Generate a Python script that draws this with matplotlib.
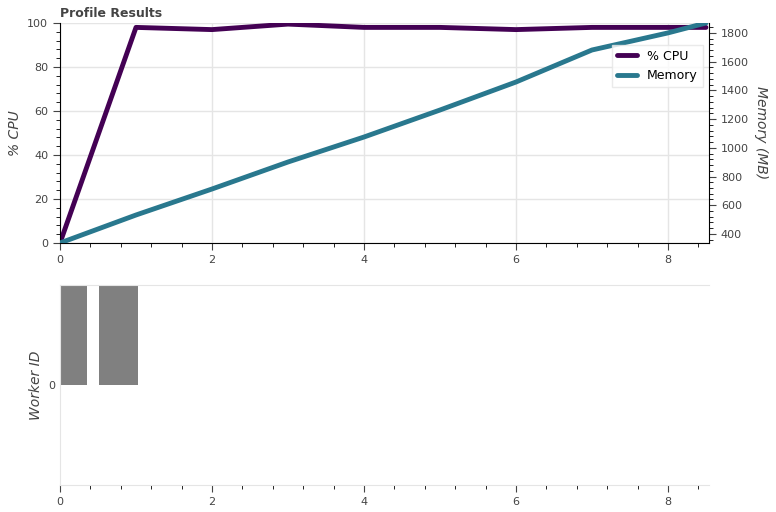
import matplotlib
matplotlib.use("Agg")
import matplotlib.pyplot as plt
from matplotlib.ticker import MultipleLocator

t = [0, 1, 2, 3, 4, 5, 6, 7, 8, 8.5]
cpu = [0, 98, 97, 99.5, 98, 98, 97, 98, 98, 98]
mem = [337, 532, 713, 901, 1075, 1263, 1458, 1681, 1800, 1869]
task_start = [0.0, 0.51]
task_end = [0.355, 1.03]
task_worker = [0, 0]

W, H = 776, 512
fig = plt.figure(figsize=(W/100, H/100), dpi=100)
tc = '#444444'
def ax_rect(l, t_, r, b):
    return [l/W, 1-b/H, (r-l)/W, (b-t_)/H]

ax = fig.add_axes(ax_rect(60, 23, 709, 243))
ax.plot(t, cpu, color='#440154', lw=3.5, label='% CPU', solid_capstyle='round')
ax.set_xlim(0, 8.54); ax.set_ylim(0, 100)
ax.set_ylabel('% CPU', style='italic', color=tc, fontsize=10)
ax.grid(color='#e5e5e5', lw=1)
ax.set_axisbelow(True)
ax2 = ax.twinx()
ax2.plot(t, mem, color='#29788E', lw=3.5, label='Memory', solid_capstyle='round')
ax2.set_ylim(337, 1869)
ax2.set_ylabel('Memory (MB)', style='italic', color=tc, fontsize=10, rotation=270, labelpad=14)
ax2.yaxis.set_major_locator(MultipleLocator(200))
ax2.yaxis.set_minor_locator(MultipleLocator(40))
ax.yaxis.set_minor_locator(MultipleLocator(4))
ax.xaxis.set_minor_locator(MultipleLocator(0.4))
ax.xaxis.set_major_locator(MultipleLocator(2))
for a in (ax, ax2):
    for s in a.spines.values(): s.set_visible(False)
    a.tick_params(labelsize=8, colors=tc, length=5)
    a.tick_params(which='minor', length=3)
ax.spines['left'].set_visible(True); ax.spines['bottom'].set_visible(True)
ax2.spines['right'].set_visible(True)
ax.set_title('Profile Results', loc='left', fontsize=9, fontweight='bold', color=tc, pad=4)
h1, l1 = ax.get_legend_handles_labels(); h2, l2 = ax2.get_legend_handles_labels()
ax2.legend(h1+h2, l1+l2, loc='upper right', bbox_to_anchor=(1.0, 0.93), fontsize=9,
           frameon=True, fancybox=False, edgecolor='#e5e5e5', handlelength=1.6)

b = fig.add_axes(ax_rect(60, 285, 709, 485))
for s, e, w in zip(task_start, task_end, task_worker):
    b.bar(s, 1, width=e-s, bottom=w, align='edge', color='#808080')
b.set_xlim(0, 8.54); b.set_ylim(-1, 1)
b.set_yticks([0])
b.set_ylabel('Worker ID', style='italic', color=tc, fontsize=10)
b.xaxis.set_major_locator(MultipleLocator(2))
b.xaxis.set_minor_locator(MultipleLocator(0.4))
for s in b.spines.values(): s.set_color('#e5e5e5')
b.spines['right'].set_visible(False)
b.tick_params(labelsize=8, colors=tc, length=5)
b.tick_params(axis='y', length=0)
b.tick_params(which='minor', length=3)
fig.savefig('out.png', dpi=100)
